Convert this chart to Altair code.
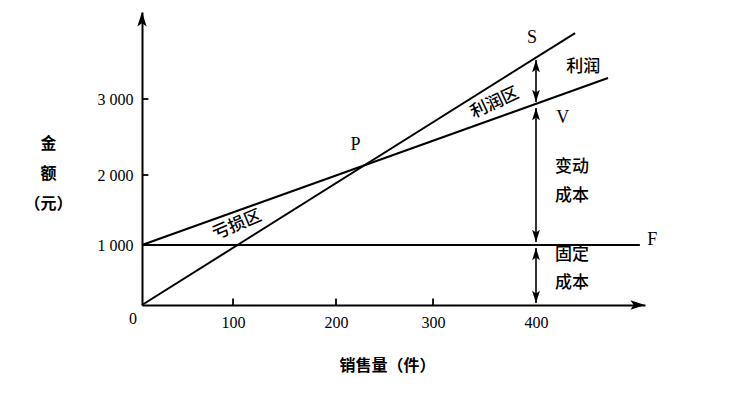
import altair as alt
import pandas as pd

# ---- values (sales volume in units, amount in yuan) ----
line_names = ["S", "V", "F"]
line_x0 = [0, 0, 0]
line_y0 = [0, 1000, 1000]
line_x1 = [438, 470, 501]
line_y1 = [3868, 3276, 1000]

x_tick_values = [100, 200, 300, 400]
y_tick_values = [1000, 2000, 3000]
x_tick_marks = [100, 200, 300]

# double-headed arrows at volume 400 (profit, variable cost, fixed cost)
arrow_x = 400
arrow_top = [3513, 2882, 950]
arrow_bottom = [2960, 1043, 33]

# axis ends (arrow tips)
x_axis_end = 506
y_axis_end = 4145

# letter labels
letter_text = ["S", "V", "F", "P"]
letter_x = [396, 426, 513, 220]
letter_y = [3803, 2750, 1071, 2395]

# Chinese labels
cjk_text = ["利润", "变动", "成本", "固定", "成本", "利润区", "亏损区"]
cjk_x = [446, 435, 435, 435, 435, 360, 104]
cjk_y = [3421, 2105, 1700, 833, 367, 2947, 1286]
cjk_angle = [0, 0, 0, 0, 0, 335, 337]

CJK = "Noto Sans CJK SC"
SERIF = "Liberation Serif"

x_scale = alt.Scale(domain=[0, 100, 200, 300, 400, x_axis_end],
                    range=[0, 91, 194, 291, 394, 503], nice=False, zero=False)
y_scale = alt.Scale(domain=[0, 1000, 2000, 3000, y_axis_end],
                    range=[293, 233, 163, 87, 0], nice=False, zero=False)

lines_df = pd.DataFrame({"name": line_names, "x0": line_x0, "y0": line_y0,
                         "x1": line_x1, "y1": line_y1})

x_axis = alt.Axis(values=x_tick_values, ticks=False, tickSize=0, grid=False,
                  domainColor="black", domainWidth=2, labelPadding=9,
                  labelFont=SERIF, labelFontSize=16, labelColor="black",
                  labelAngle=0, labelFlush=False,
                  title="销售量（件）", titleFont=CJK, titleFontSize=16,
                  titleFontWeight="bold", titleColor="black",
                  titleX=245, titleY=60, titleBaseline="middle", titleAlign="center")

y_axis = alt.Axis(values=y_tick_values, ticks=False, tickSize=0, grid=False,
                  domainColor="black", domainWidth=2, labelPadding=9,
                  labelFont=SERIF, labelFontSize=16, labelColor="black",
                  labelExpr="replace(format(datum.value, ','), ',', ' ')",
                  labelFlush=False,
                  title=["金", "额", "（元）"], titleFont=CJK, titleFontSize=16,
                  titleFontWeight="bold", titleColor="black", titleAngle=0,
                  titleX=-94, titleY=131, titleAlign="center",
                  titleBaseline="middle", titleLineHeight=30)

# base layer carrying axes
axes_layer = alt.Chart(lines_df).mark_rule(color="black", strokeWidth=2).encode(
    x=alt.X("x0:Q", scale=x_scale, axis=x_axis),
    y=alt.Y("y0:Q", scale=y_scale, axis=y_axis),
    x2="x1:Q",
    y2="y1:Q",
)

# tick marks pointing inward
xt_df = pd.DataFrame({"x": x_tick_marks, "y0": [0] * len(x_tick_marks),
                      "y1": [110] * len(x_tick_marks)})
xticks = alt.Chart(xt_df).mark_rule(color="black", strokeWidth=1.8).encode(
    x=alt.X("x:Q", scale=x_scale), y=alt.Y("y0:Q", scale=y_scale), y2="y1:Q")

yt_df = pd.DataFrame({"y": y_tick_values, "x0": [0] * len(y_tick_values),
                      "x1": [7] * len(y_tick_values)})
yticks = alt.Chart(yt_df).mark_rule(color="black", strokeWidth=1.8).encode(
    y=alt.Y("y:Q", scale=y_scale), x=alt.X("x0:Q", scale=x_scale), x2="x1:Q")

# arrow shafts
shaft_df = pd.DataFrame({"x": [arrow_x] * 3, "top": arrow_top, "bottom": arrow_bottom})
shafts = alt.Chart(shaft_df).mark_rule(color="black", strokeWidth=1.6).encode(
    x=alt.X("x:Q", scale=x_scale), y=alt.Y("bottom:Q", scale=y_scale), y2="top:Q")

# arrow heads
head_x = [arrow_x] * 6 + [0, x_axis_end]
head_y = arrow_top + arrow_bottom + [y_axis_end, 0]
head_ang = [0, 0, 0, 180, 180, 180, 0, 90]
head_size = [600] * 6 + [850, 850]
heads_df = pd.DataFrame({"x": head_x, "y": head_y, "ang": head_ang, "sz": head_size})
heads = alt.Chart(heads_df).mark_point(
    shape="M0,0L0.32,1L0,0.78L-0.32,1Z", filled=True, color="black", opacity=1,
    strokeWidth=0).encode(
    x=alt.X("x:Q", scale=x_scale), y=alt.Y("y:Q", scale=y_scale),
    angle=alt.Angle("ang:Q", scale=None), size=alt.Size("sz:Q", scale=None))

# zero label at origin
zero_df = pd.DataFrame({"x": [0], "y": [0], "t": ["0"]})
zero_lbl = alt.Chart(zero_df).mark_text(font=SERIF, fontSize=16, color="black",
                                        align="right", baseline="middle",
                                        dx=-5, dy=14).encode(
    x=alt.X("x:Q", scale=x_scale), y=alt.Y("y:Q", scale=y_scale), text="t:N")

letters_df = pd.DataFrame({"t": letter_text, "x": letter_x, "y": letter_y})
letters = alt.Chart(letters_df).mark_text(font=SERIF, fontSize=18, color="black",
                                          align="center", baseline="middle").encode(
    x=alt.X("x:Q", scale=x_scale), y=alt.Y("y:Q", scale=y_scale), text="t:N")

cjk_df = pd.DataFrame({"t": cjk_text, "x": cjk_x, "y": cjk_y, "a": cjk_angle})
cjk = alt.Chart(cjk_df).mark_text(font=CJK, fontSize=17, fontWeight=500, color="black",
                                  align="center", baseline="middle").encode(
    x=alt.X("x:Q", scale=x_scale), y=alt.Y("y:Q", scale=y_scale), text="t:N",
    angle=alt.Angle("a:Q", scale=None))

chart = alt.layer(axes_layer, xticks, yticks, shafts, heads, zero_lbl, letters, cjk).properties(
    width=503, height=293,
    autosize=alt.AutoSizeParams(type="none"),
    padding={"left": 142, "top": 12, "right": 95, "bottom": 88},
    background="white",
).configure_view(stroke=None)

chart.save("out.html", embed_options={"renderer": "svg", "actions": False})
